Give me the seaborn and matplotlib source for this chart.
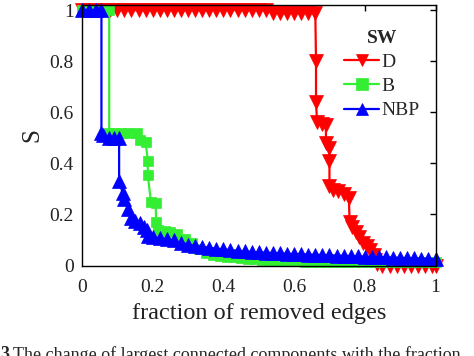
import matplotlib
matplotlib.use('Agg')
import seaborn as sns
from matplotlib import pyplot as plt

# fraction of removed edges / S values
d_x = [0.00, 0.02, 0.04, 0.06, 0.08, 0.10, 0.12, 0.14, 0.16, 0.18, 0.20, 0.22, 0.24, 0.26, 0.28,
       0.30, 0.32, 0.34, 0.36, 0.38, 0.40, 0.42, 0.44, 0.46, 0.48, 0.50, 0.52, 0.54, 0.56, 0.58,
       0.60, 0.62, 0.64, 0.66, 0.662, 0.662, 0.665, 0.68, 0.69, 0.69, 0.70, 0.70, 0.70, 0.71, 0.725,
       0.74, 0.755, 0.757, 0.765, 0.775, 0.785, 0.795, 0.805, 0.815, 0.825, 0.83, 0.835, 0.85, 0.87,
       0.89, 0.91, 0.93, 0.95, 0.97, 0.99, 1.00]
d_y = [1.00, 1.00, 1.00, 1.00, 1.00, 1.00, 1.00, 1.00, 1.00, 1.00, 1.00, 1.00, 1.00, 1.00, 1.00,
       1.00, 1.00, 1.00, 1.00, 1.00, 1.00, 1.00, 1.00, 1.00, 1.00, 1.00, 1.00, 0.99, 0.99, 0.99,
       0.99, 0.99, 0.99, 0.99, 0.80, 0.64, 0.56, 0.555, 0.55, 0.48, 0.46, 0.41, 0.31, 0.295, 0.29,
       0.28, 0.265, 0.17, 0.15, 0.13, 0.11, 0.09, 0.075, 0.06, 0.04, 0.02, 0.005, 0.00, 0.00,
       0.00, 0.00, 0.00, 0.00, 0.00, 0.00, 0.00]

b_x = [0.00, 0.02, 0.04, 0.06, 0.077, 0.077, 0.09, 0.11, 0.13, 0.155, 0.165, 0.18, 0.186, 0.186,
       0.195, 0.208, 0.21, 0.216, 0.235, 0.25, 0.27, 0.29, 0.31, 0.33, 0.35, 0.37, 0.39, 0.41,
       0.43, 0.45, 0.47, 0.49, 0.51, 0.53, 0.55, 0.57, 0.59, 0.61, 0.63, 0.65, 0.67, 0.69, 0.71,
       0.73, 0.75, 0.77, 0.79, 0.81, 0.83, 0.85, 0.87, 0.89, 0.91, 0.93, 0.95, 0.97, 0.99, 1.00]
b_y = [1.00, 1.00, 1.00, 1.00, 1.00, 0.52, 0.52, 0.52, 0.52, 0.52, 0.49, 0.485, 0.41, 0.355,
       0.25, 0.246, 0.17, 0.14, 0.135, 0.13, 0.125, 0.105, 0.09, 0.065, 0.05, 0.043, 0.038, 0.035,
       0.032, 0.03, 0.027, 0.024, 0.021, 0.019, 0.018, 0.017, 0.016, 0.016, 0.015, 0.015, 0.015,
       0.015, 0.015, 0.015, 0.015, 0.015, 0.015, 0.015, 0.015, 0.015, 0.015, 0.015, 0.015, 0.015,
       0.015, 0.015, 0.015, 0.015]

nbp_x = [0.00, 0.02, 0.04, 0.055, 0.055, 0.06, 0.075, 0.09, 0.105, 0.105, 0.115, 0.12, 0.13,
         0.14, 0.15, 0.163, 0.175, 0.183, 0.186, 0.20, 0.22, 0.24, 0.26, 0.28, 0.30, 0.32, 0.34,
         0.36, 0.38, 0.40, 0.42, 0.44, 0.46, 0.48, 0.50, 0.52, 0.54, 0.56, 0.58, 0.60, 0.62, 0.64,
         0.66, 0.68, 0.70, 0.72, 0.74, 0.76, 0.78, 0.80, 0.82, 0.84, 0.86, 0.88, 0.90, 0.92, 0.94,
         0.96, 0.98, 1.00]
nbp_y = [1.00, 1.00, 1.00, 1.00, 0.52, 0.51, 0.50, 0.50, 0.50, 0.33, 0.285, 0.26, 0.22,
         0.185, 0.175, 0.168, 0.15, 0.14, 0.115, 0.112, 0.108, 0.104, 0.098, 0.09, 0.082, 0.077,
         0.073, 0.070, 0.066, 0.063, 0.060, 0.058, 0.055, 0.053, 0.051, 0.050, 0.049, 0.048, 0.046,
         0.045, 0.044, 0.043, 0.042, 0.041, 0.040, 0.039, 0.038, 0.037, 0.036, 0.035, 0.034, 0.033,
         0.032, 0.031, 0.030, 0.029, 0.028, 0.027, 0.026, 0.025]

tick_vals = [0, 0.2, 0.4, 0.6, 0.8, 1]
tick_labels = ['0', '0.2', '0.4', '0.6', '0.8', '1']

sns.set_theme(style='white')
plt.rcParams['font.family'] = ['Liberation Serif', 'DejaVu Serif']

fig = plt.figure(figsize=(4.74, 3.56), dpi=100)
ax = fig.add_axes([82 / 474, 90.5 / 356, 353.5 / 474, 260.5 / 356])

series = [
    (d_x, d_y, 'D', '#ff0000', 'v', 10),
    (b_x, b_y, 'B', '#33ee33', 's', 6.5),
    (nbp_x, nbp_y, 'NBP', '#0000ff', '^', 10),
]
for xs, ys, name, col, mk, ms in series:
    sns.lineplot(x=xs, y=ys, ax=ax, sort=False, estimator=None, color=col, lw=1.6,
                 marker=mk, markersize=ms, markeredgecolor=col, markerfacecolor=col,
                 markeredgewidth=0.5, label=name, clip_on=False)

ax.set_xlim(0, 1)
ax.set_ylim(0, 1.02)
ax.set_xticks(tick_vals)
ax.set_xticklabels(tick_labels)
ax.set_yticks(tick_vals)
ax.set_yticklabels(tick_labels)
ax.tick_params(direction='in', length=4, width=1, top=True, right=True, colors='black',
               labelsize=14, labelcolor='#222222')
ax.tick_params(axis='x', pad=10)
ax.tick_params(axis='y', pad=6)
for sp in ax.spines.values():
    sp.set_color('black')
    sp.set_linewidth(1)

ax.set_xlabel('fraction of removed edges', fontsize=17.5, labelpad=5, color='#222222')
ax.set_ylabel('S', fontsize=18, labelpad=4, color='#222222')

leg = ax.legend(loc='upper left', bbox_to_anchor=(0.72, 0.933), frameon=False, title='SW',
                fontsize=14, handlelength=1.8, handletextpad=0.1, labelspacing=0.33,
                borderaxespad=0, title_fontproperties={'weight': 'bold', 'size': 14})
for h in leg.legend_handles:
    h.set_markersize(9)

fig.text(0.0, 1 - 346 / 356, '3', fontsize=13, fontweight='bold', va='top', ha='left')
fig.text(13 / 474, 1 - 346 / 356, 'The change of largest connected components with the fraction',
         fontsize=13, va='top', ha='left')

fig.savefig('out.png', dpi=100)
